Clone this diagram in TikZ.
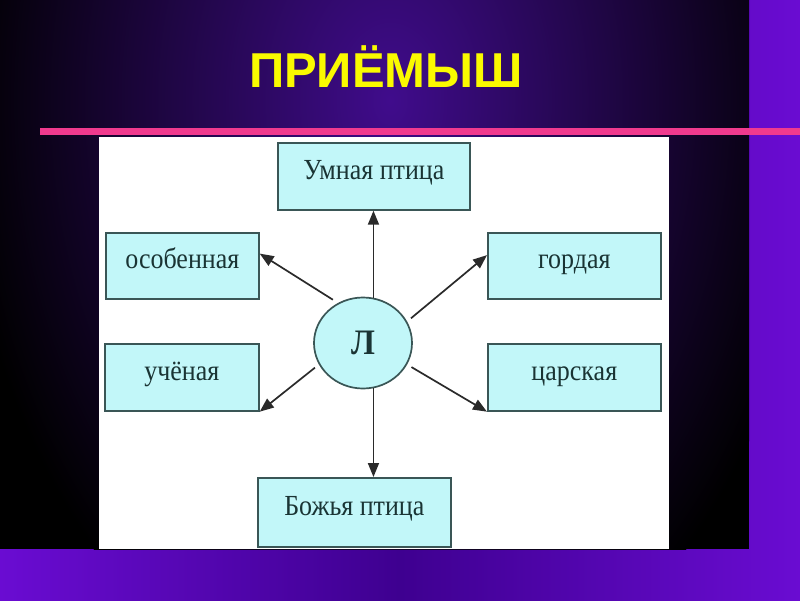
\documentclass[tikz,border=0pt]{standalone}
\usepackage{fontspec}
\usepackage{graphicx}
\setmainfont{Liberation Serif}
\newfontfamily\titlefont{Liberation Sans}
\usetikzlibrary{arrows.meta,shapes.geometric}
\definecolor{boxfill}{HTML}{C2F7F9}
\definecolor{boxline}{HTML}{3A5656}
\definecolor{boxtext}{HTML}{1A3434}
\definecolor{arrowc}{HTML}{2A2A2A}
\definecolor{pinkc}{HTML}{F03A8E}
\definecolor{framel}{HTML}{6A0CD2}
\definecolor{framem}{HTML}{3E0090}
\definecolor{darkp}{HTML}{400C8C}
\definecolor{titley}{HTML}{FAFA00}
\newcommand{\stretchtxt}[1]{\scalebox{1}[1.12]{#1}}
\begin{document}
\begin{tikzpicture}[x=1pt,y=-1pt,
  box/.style={draw=boxline, line width=1.7pt, fill=boxfill, text=boxtext,
    font=\fontsize{26}{30}\selectfont, text height=16pt, text depth=10pt,
    inner sep=0pt, anchor=north west},
  arr/.style={draw=arrowc, line width=1.7pt, -{Triangle[length=14pt,width=11pt]}},
  hub/.style={ellipse, draw=boxline, line width=1.7pt, fill=boxfill, text=boxtext,
    inner sep=0pt, minimum width=98pt, minimum height=91pt,
    font=\bfseries\fontsize{32}{36}\selectfont}
]
\useasboundingbox (0,0) rectangle (800,600);
% outer purple frame
\shade[left color=framel, right color=framel, middle color=framem] (0,0) rectangle (800,600);
% dark slide area
\begin{scope}
\clip (0,0) rectangle (749,549);
\fill[black] (0,0) rectangle (749,549);
\shade[inner color=darkp, outer color=black] (390,100) ellipse [x radius=430, y radius=620];
\end{scope}
% pink rule
\fill[pinkc] (40,128) rectangle (800,135);
% title
\node[font=\titlefont\bfseries\fontsize{49}{55}\selectfont, text=titley, anchor=base, inner sep=0pt] (title) at (386,87) {ПРИЁМЫШ};
% white panel
\fill[white] (99,137) rectangle (669,549);
% boxes
\node[box, minimum width=192pt, minimum height=67pt] (umn) at (277,142) {\stretchtxt{Умная птица}\hspace{18pt}};
\node[box, minimum width=153pt, minimum height=66pt] (osob) at (105,232) {\stretchtxt{особенная}};
\node[box, minimum width=173pt, minimum height=66pt] (gord) at (487,232) {\stretchtxt{гордая}};
\node[box, minimum width=154pt, minimum height=67pt] (uch) at (104,343) {\stretchtxt{учёная}};
\node[box, minimum width=173pt, minimum height=67pt] (tsar) at (487,343) {\stretchtxt{царская}};
\node[box, minimum width=193pt, minimum height=69pt] (bog) at (257,477) {\stretchtxt{Божья птица}\hspace{20pt}};
% hub
\node[hub] (L) at (363,343) {\stretchtxt{Л}};
% arrows
\draw[arr] (L.77) -- (L.77 |- umn.south);
\draw[arr] (L.-77) -- (L.-77 |- bog.north);
\draw[arr, shorten <=6pt] (L.122) -- (osob.9);
\draw[arr, shorten <=5pt] (L.26) -- (gord.173);
\draw[arr, shorten <=5pt] (L.206) -- (uch.south east);
\draw[arr, shorten <=5pt] (L.-26) -- (tsar.south west);
\end{tikzpicture}
\end{document}
